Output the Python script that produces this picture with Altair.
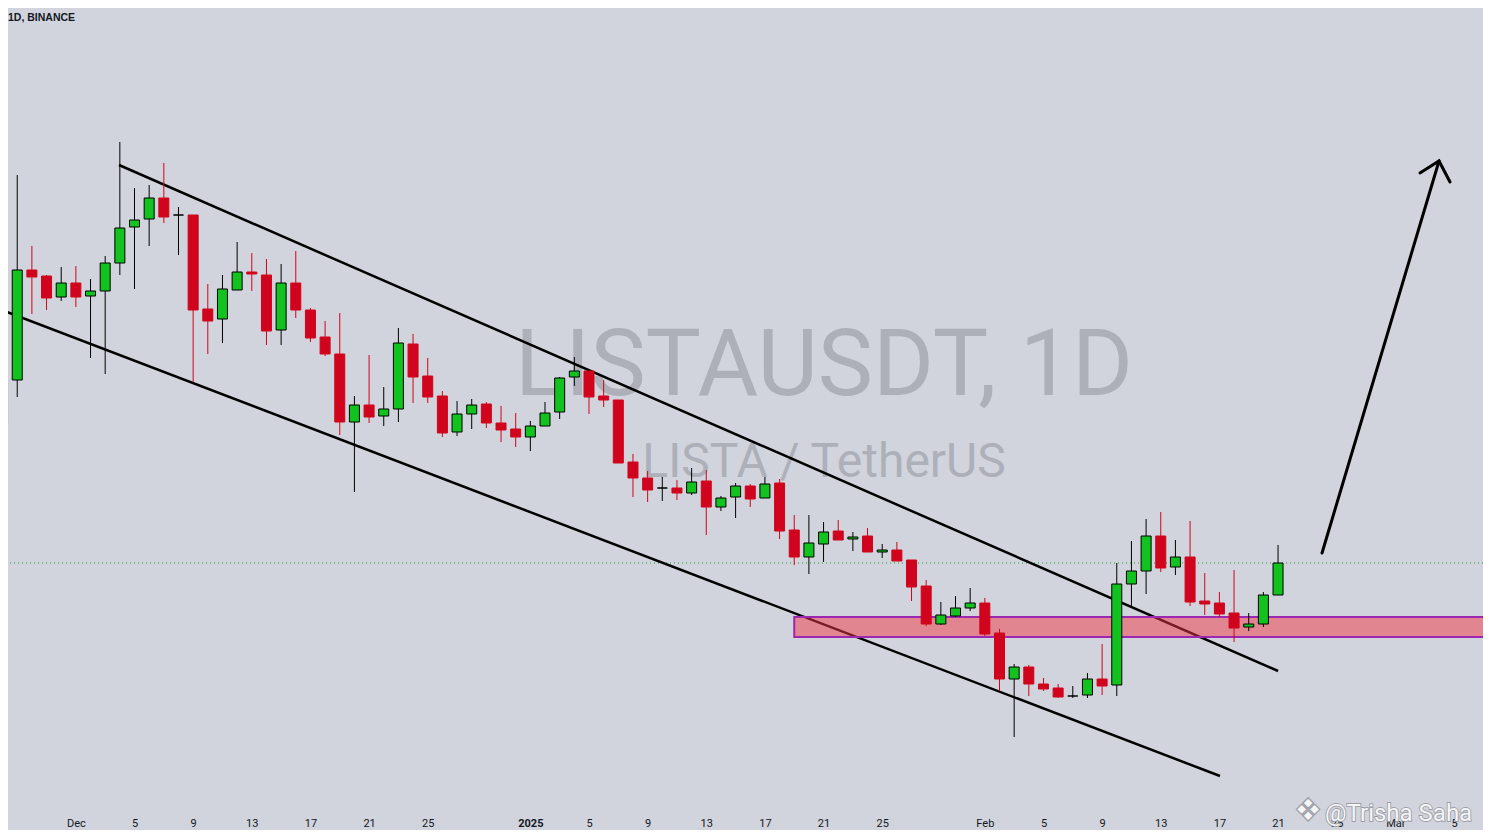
import altair as alt
import pandas as pd

# ---------------- data ----------------
dates = pd.date_range("2024-11-26", "2025-02-21", freq="D").strftime("%Y-%m-%d").tolist()

open_ = [0.576, 0.620, 0.730, 0.724, 0.703, 0.717, 0.704, 0.709, 0.737, 0.773,
         0.781, 0.802, 0.785, 0.785, 0.691, 0.681, 0.710, 0.728, 0.725, 0.670,
         0.717, 0.690, 0.663, 0.646, 0.578, 0.595, 0.584, 0.591, 0.656, 0.624,
         0.604, 0.568, 0.586, 0.596, 0.577, 0.571, 0.563, 0.574, 0.588, 0.623,
         0.629, 0.604, 0.600, 0.538, 0.522, 0.512, 0.512, 0.507, 0.519, 0.493,
         0.503, 0.514, 0.502, 0.517, 0.470, 0.443, 0.456, 0.469, 0.461, 0.464,
         0.448, 0.450, 0.440, 0.414, 0.376, 0.384, 0.392, 0.397, 0.367, 0.321,
         0.333, 0.316, 0.312, 0.304, 0.305, 0.321, 0.315, 0.416, 0.429, 0.464,
         0.433, 0.443, 0.399, 0.397, 0.387, 0.373, 0.376, 0.405]
close = [0.620, 0.730, 0.723, 0.702, 0.717, 0.703, 0.709, 0.737, 0.772, 0.780,
         0.802, 0.783, 0.785, 0.690, 0.679, 0.711, 0.728, 0.726, 0.669, 0.717,
         0.690, 0.662, 0.646, 0.578, 0.595, 0.583, 0.591, 0.657, 0.623, 0.603,
         0.567, 0.586, 0.595, 0.577, 0.570, 0.563, 0.574, 0.587, 0.622, 0.629,
         0.603, 0.600, 0.537, 0.522, 0.510, 0.512, 0.507, 0.518, 0.493, 0.502,
         0.514, 0.501, 0.516, 0.469, 0.443, 0.457, 0.468, 0.460, 0.463, 0.448,
         0.450, 0.439, 0.413, 0.376, 0.385, 0.392, 0.397, 0.366, 0.321, 0.333,
         0.316, 0.311, 0.303, 0.304, 0.321, 0.314, 0.416, 0.429, 0.464, 0.432,
         0.443, 0.398, 0.396, 0.386, 0.372, 0.376, 0.405, 0.437]
high = [0.628, 0.825, 0.754, 0.725, 0.733, 0.734, 0.721, 0.744, 0.858, 0.812,
        0.815, 0.837, 0.793, 0.785, 0.716, 0.725, 0.758, 0.747, 0.741, 0.736,
        0.749, 0.692, 0.679, 0.687, 0.604, 0.645, 0.613, 0.672, 0.666, 0.642,
        0.609, 0.599, 0.601, 0.598, 0.594, 0.587, 0.579, 0.598, 0.623, 0.643,
        0.629, 0.620, 0.600, 0.546, 0.529, 0.523, 0.520, 0.532, 0.530, 0.504,
        0.517, 0.516, 0.523, 0.521, 0.485, 0.485, 0.478, 0.480, 0.468, 0.472,
        0.456, 0.458, 0.440, 0.420, 0.398, 0.404, 0.412, 0.402, 0.371, 0.336,
        0.335, 0.322, 0.316, 0.314, 0.327, 0.356, 0.437, 0.459, 0.481, 0.488,
        0.460, 0.479, 0.427, 0.408, 0.430, 0.387, 0.408, 0.455]
low = [0.571, 0.603, 0.686, 0.690, 0.699, 0.693, 0.642, 0.626, 0.725, 0.711,
       0.754, 0.777, 0.745, 0.618, 0.646, 0.657, 0.710, 0.709, 0.655, 0.655,
       0.682, 0.658, 0.644, 0.565, 0.508, 0.577, 0.574, 0.578, 0.597, 0.597,
       0.563, 0.564, 0.571, 0.572, 0.558, 0.553, 0.549, 0.574, 0.581, 0.614,
       0.586, 0.593, 0.537, 0.503, 0.498, 0.499, 0.500, 0.505, 0.465, 0.489,
       0.482, 0.493, 0.502, 0.461, 0.435, 0.426, 0.438, 0.460, 0.449, 0.448,
       0.442, 0.439, 0.399, 0.374, 0.375, 0.383, 0.389, 0.364, 0.309, 0.263,
       0.304, 0.309, 0.302, 0.302, 0.302, 0.305, 0.304, 0.394, 0.406, 0.428,
       0.425, 0.394, 0.385, 0.383, 0.358, 0.369, 0.373, 0.405]

tick_dates = ["2024-12-01", "2024-12-05", "2024-12-09", "2024-12-13", "2024-12-17",
              "2024-12-21", "2024-12-25", "2025-01-01", "2025-01-05", "2025-01-09",
              "2025-01-13", "2025-01-17", "2025-01-21", "2025-01-25", "2025-02-01",
              "2025-02-05", "2025-02-09", "2025-02-13", "2025-02-17", "2025-02-21",
              "2025-02-25", "2025-03-01", "2025-03-05"]
tick_labels = ["Dec", "5", "9", "13", "17", "21", "25", "2025", "5", "9", "13", "17",
               "21", "25", "Feb", "5", "9", "13", "17", "21", "25", "Mar", "5"]

# annotations (day offsets from 2024-12-05, prices)
upper_t = [-1.06, 78.0]
upper_p = [0.835, 0.329]
lower_t = [-9.04, 74.04]
lower_p = [0.690, 0.224]
arrow_t = [81.0, 88.98]
arrow_p = [0.447, 0.839]
head_t = [87.68, 88.98, 89.73]
head_p = [0.827, 0.839, 0.818]
zone_start = "2025-01-19"
zone_top = 0.383
zone_bottom = 0.363

# ---------------- styling ----------------
BG = "#d1d4dc"
GREEN = "#12c31f"
RED = "#d0041c"
WM = "#adb0b8"
TXT = "#131722"
WMFONT = "Roboto"

ref = pd.Timestamp("2024-12-05")


def day_index(d):
    return (pd.Timestamp(d) - ref).days


df = pd.DataFrame({"date": dates, "open": open_, "high": high, "low": low, "close": close})
df["t"] = [day_index(d) for d in dates]
df["dir"] = ["up" if c >= o else "down" for o, c in zip(open_, close)]

tick_t = [day_index(d) for d in tick_dates]
label_expr = "".join(f"datum.value == {t} ? '{l}' : " for t, l in zip(tick_t, tick_labels)) + "''"

W, H = 1475, 800
x_scale = alt.Scale(domain=[-8.629, 91.98], nice=False, zero=False, padding=0)
y_scale = alt.Scale(domain=[0.192, 0.992], nice=False, zero=False, padding=0)

x_axis = alt.Axis(values=tick_t, labelExpr=label_expr, domain=False, ticks=False, grid=False,
                  title=None, labelColor=TXT, labelFontSize=11, labelFont="Roboto",
                  labelPadding=9, labelOverlap=False, labelFlush=False, labelBound=False,
                  labelFontWeight={"condition": {"test": "datum.value == 27", "value": "bold"},
                                   "value": "normal"})


def XX(field):
    return alt.X(field, scale=x_scale, axis=x_axis)


def YY(field):
    return alt.Y(field, scale=y_scale, axis=None)


def txt(label, x, y, **kw):
    return alt.Chart(pd.DataFrame({"label": [label]})).mark_text(**kw).encode(
        text="label:N", x=alt.value(x), y=alt.value(y))


wm1 = txt("LISTAUSDT, 1D", 816, 387, font=WMFONT, fontSize=93, color=WM, align="center",
          baseline="alphabetic")
wm2 = txt("LISTA / TetherUS", 816, 469, font=WMFONT, fontSize=48, color=WM, align="center",
          baseline="alphabetic")

last = pd.DataFrame({"p": [close[-1]]})
dotted = alt.Chart(last).mark_rule(color="#1e9a3c", strokeWidth=1, strokeDash=[1, 3]).encode(
    y=YY("p:Q"))

lines_df = pd.DataFrame({
    "t": upper_t + lower_t,
    "p": upper_p + lower_p,
    "g": ["upper"] * len(upper_t) + ["lower"] * len(lower_t),
})
channel = alt.Chart(lines_df).mark_line(color="#000000", strokeWidth=2.5, clip=True).encode(
    x=XX("t:Q"), y=YY("p:Q"), detail="g:N")

zone_df = pd.DataFrame({"t": [day_index(zone_start)], "t1": [95], "top": [zone_top],
                        "bot": [zone_bottom]})
zone = alt.Chart(zone_df).mark_rect(fill="#f23645", fillOpacity=0.5, stroke="#9c27b0",
                                    strokeWidth=2, clip=True).encode(
    x=XX("t:Q"), x2="t1:Q", y=YY("top:Q"), y2="bot:Q")

wicks = alt.Chart(df).mark_rule(strokeWidth=1).encode(
    x=XX("t:Q"), y=YY("low:Q"), y2="high:Q",
    color=alt.Color("dir:N", scale=alt.Scale(domain=["up", "down"], range=["#000000", RED]),
                    legend=None))

bodies = alt.Chart(df).mark_bar(size=10, strokeWidth=1).encode(
    x=XX("t:Q"), y=YY("open:Q"), y2="close:Q",
    fill=alt.Fill("dir:N", scale=alt.Scale(domain=["up", "down"], range=[GREEN, RED]),
                  legend=None),
    stroke=alt.Stroke("dir:N", scale=alt.Scale(domain=["up", "down"], range=["#000000", RED]),
                      legend=None))

arrow_df = pd.DataFrame({
    "t": arrow_t + head_t,
    "p": arrow_p + head_p,
    "g": ["shaft"] * len(arrow_t) + ["head"] * len(head_t),
    "o": list(range(len(arrow_t))) + list(range(len(head_t))),
})
arrow = alt.Chart(arrow_df).mark_line(color="#000000", strokeWidth=3, strokeCap="round",
                                      strokeJoin="miter").encode(
    x=XX("t:Q"), y=YY("p:Q"), detail="g:N", order="o:Q")

title_txt = txt("1D, BINANCE", 0, 13, font="Liberation Sans", fontSize=10.5,
                fontWeight="bold", color=TXT, align="left", baseline="alphabetic")

logo = txt("\u2756", 1300, 803, font="DejaVu Sans", fontSize=32, color="#f5f5f7",
           stroke="#9a9da5", strokeWidth=1.2, align="center", baseline="middle")
sig_shadow = txt("@Trisha Saha", 1317, 813, font="Roboto", fontSize=24, color="#f5f5f7",
                 stroke="#9a9da5", strokeWidth=1.8, align="left", baseline="alphabetic")
sig = txt("@Trisha Saha", 1317, 813, font="Roboto", fontSize=24, color="#f5f5f7",
          align="left", baseline="alphabetic")

chart = alt.layer(
    wm1, wm2, dotted, channel, zone, wicks, bodies, arrow, title_txt, logo,
    sig_shadow, sig
).resolve_scale(color="independent").properties(
    width=W, height=H,
    autosize=alt.AutoSizeParams(type="none"),
    padding={"left": 0, "top": 0, "right": 0, "bottom": 22},
    background=BG,
).configure_view(stroke=None, fill=BG)

chart.save("out.html", embed_options={"renderer": "svg", "actions": False})
